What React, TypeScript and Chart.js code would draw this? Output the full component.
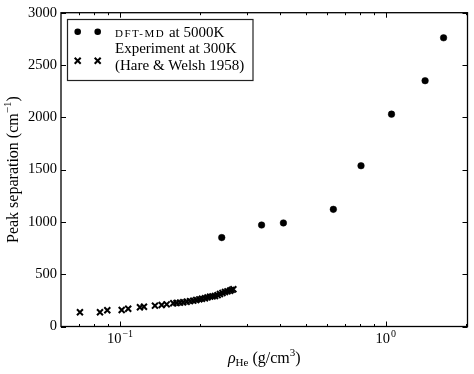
import { useEffect, useRef } from "react";
import { Chart, registerables } from "chart.js";

Chart.register(...registerables);

// DFT-MD at 5000K
const dftDensity = [0.2415, 0.341, 0.412, 0.635, 0.807, 1.051, 1.406, 1.65];
const dftSeparation = [850, 970, 990, 1120, 1537, 2030, 2350, 2760];

// Experiment at 300K (Hare & Welsh 1958)
const expDensity = [
  0.0707, 0.0841, 0.0896, 0.1015, 0.1074, 0.1189, 0.1231, 0.1354, 0.1435, 0.1499,
  0.1587, 0.1633, 0.1682, 0.173, 0.1782, 0.1834, 0.1887, 0.1936, 0.1988, 0.2035,
  0.2089, 0.2134, 0.2182, 0.223, 0.2278, 0.233, 0.2378, 0.243, 0.2484, 0.2538,
  0.2594, 0.263, 0.267,
];
const expSeparation = [
  136, 136, 155, 158, 170, 184, 189, 199, 206, 212,
  222, 225, 228, 232, 237, 242, 247, 253, 260, 265,
  270, 278, 285, 288, 292, 300, 311, 320, 330, 336,
  342, 350, 356,
];

const yTicks = [0, 500, 1000, 1500, 2000, 2500, 3000];
const xMajorTicks = [0.1, 1];
const xMajorLabels = [["10", "\u22121"], ["10", "0"]];
const xMinorTicks = [0.07, 0.08, 0.09, 0.2, 0.3, 0.4, 0.5, 0.6, 0.7, 0.8, 0.9, 2];
const xRange = [0.06, 2.03];
const yRange = [0, 3000];

const SERIF = '"Liberation Serif", "DejaVu Serif", serif';

const decorPlugin = {
  id: "decor",
  afterDraw(chart: any) {
    const { ctx, chartArea: a, scales } = chart;
    const xs = scales.x;
    const ys = scales.y;
    ctx.save();
    ctx.strokeStyle = "#000";
    ctx.fillStyle = "#000";

    // ticks (inward, all four sides)
    ctx.lineWidth = 1;
    ctx.beginPath();
    const vx = (v: number, len: number) => {
      const px = Math.round(xs.getPixelForValue(v)) + 0.5;
      ctx.moveTo(px, a.bottom);
      ctx.lineTo(px, a.bottom - len);
      ctx.moveTo(px, a.top);
      ctx.lineTo(px, a.top + len);
    };
    xMajorTicks.forEach((v) => vx(v, 5));
    xMinorTicks.forEach((v) => vx(v, 2.5));
    yTicks.forEach((v) => {
      const py = Math.round(ys.getPixelForValue(v)) + 0.5;
      ctx.moveTo(a.left, py);
      ctx.lineTo(a.left + 5, py);
      ctx.moveTo(a.right, py);
      ctx.lineTo(a.right - 5, py);
    });
    ctx.stroke();

    // frame
    ctx.lineWidth = 1.3;
    ctx.strokeRect(a.left, a.top, a.right - a.left, a.bottom - a.top);

    // x tick labels 10^n
    ctx.textBaseline = "alphabetic";
    ctx.textAlign = "left";
    xMajorTicks.forEach((v, i) => {
      const px = xs.getPixelForValue(v);
      const [base, sup] = xMajorLabels[i];
      ctx.font = `14.5px ${SERIF}`;
      const wb = ctx.measureText(base).width;
      ctx.font = `10px ${SERIF}`;
      const ws = ctx.measureText(sup).width;
      const x0 = px - (wb + ws + 1) / 2;
      ctx.font = `14.5px ${SERIF}`;
      ctx.fillText(base, x0, a.bottom + 16);
      ctx.font = `10px ${SERIF}`;
      ctx.fillText(sup, x0 + wb + 1, a.bottom + 10.5);
    });

    // x title: rho_He (g/cm^3)
    {
      const base = 363;
      const parts: [string, string, number][] = [
        ["\u03c1", `italic 16px ${SERIF}`, 0],
        ["He", `11px ${SERIF}`, 3],
        [" (g/cm", `16px ${SERIF}`, 0],
        ["3", `11px ${SERIF}`, -7],
        [")", `16px ${SERIF}`, 0],
      ];
      let total = 0;
      parts.forEach(([t, f]) => {
        ctx.font = f;
        total += ctx.measureText(t).width;
      });
      let x = (a.left + a.right) / 2 - total / 2;
      parts.forEach(([t, f, dy]) => {
        ctx.font = f;
        ctx.fillText(t, x, base + dy);
        x += ctx.measureText(t).width;
      });
    }

    // y title: Peak separation (cm^-1)
    {
      ctx.save();
      ctx.translate(18, (a.top + a.bottom) / 2);
      ctx.rotate(-Math.PI / 2);
      const parts: [string, string, number][] = [
        ["Peak separation (cm", `16px ${SERIF}`, 0],
        ["\u22121", `11px ${SERIF}`, -7],
        [")", `16px ${SERIF}`, 0],
      ];
      let total = 0;
      parts.forEach(([t, f]) => {
        ctx.font = f;
        total += ctx.measureText(t).width;
      });
      let x = -total / 2;
      parts.forEach(([t, f, dy]) => {
        ctx.font = f;
        ctx.fillText(t, x, dy);
        x += ctx.measureText(t).width;
      });
      ctx.restore();
    }

    // legend
    {
      ctx.fillStyle = "#fff";
      ctx.fillRect(67.5, 19.5, 185.5, 61);
      ctx.strokeStyle = "#222";
      ctx.lineWidth = 1.2;
      ctx.strokeRect(67.5, 19.5, 185.5, 61);
      ctx.fillStyle = "#000";
      ctx.strokeStyle = "#000";
      [77.7, 97.7].forEach((mx) => {
        ctx.beginPath();
        ctx.arc(mx, 31.7, 3.3, 0, Math.PI * 2);
        ctx.fill();
        ctx.beginPath();
        ctx.lineWidth = 2;
        ctx.moveTo(mx - 3, 60.7 - 3);
        ctx.lineTo(mx + 3, 60.7 + 3);
        ctx.moveTo(mx - 3, 60.7 + 3);
        ctx.lineTo(mx + 3, 60.7 - 3);
        ctx.stroke();
      });
      ctx.font = `11px ${SERIF}`;
      (ctx as any).letterSpacing = "1.5px";
      ctx.fillText("DFT-MD", 115, 36.5);
      const w = ctx.measureText("DFT-MD").width;
      (ctx as any).letterSpacing = "0px";
      ctx.font = `15px ${SERIF}`;
      ctx.fillText(" at 5000K", 115 + w, 36.5);
      ctx.fillText("Experiment at 300K", 115, 53);
      ctx.fillText("(Hare & Welsh 1958)", 115, 70);
    }

    ctx.restore();
  },
};

export default function App() {
  const ref = useRef<HTMLCanvasElement>(null);

  useEffect(() => {
    const canvas = ref.current;
    if (!canvas) return;
    const chart = new Chart(canvas, {
      type: "scatter",
      data: {
        datasets: [
          {
            label: "DFT-MD at 5000K",
            data: dftDensity.map((x, i) => ({ x, y: dftSeparation[i] })),
            pointStyle: "circle",
            pointRadius: 3.3,
            pointBorderWidth: 0.5,
            backgroundColor: "#000",
            borderColor: "#000",
          },
          {
            label: "Experiment at 300K (Hare & Welsh 1958)",
            data: expDensity.map((x, i) => ({ x, y: expSeparation[i] })),
            pointStyle: "crossRot",
            pointRadius: 4.2,
            pointBorderWidth: 2,
            backgroundColor: "#000",
            borderColor: "#000",
          },
        ],
      },
      options: {
        animation: false,
        responsive: false,
        devicePixelRatio: 1,
        layout: { padding: { left: 0, right: 6.5, top: 12.7, bottom: 0 } },
        plugins: {
          legend: { display: false },
          tooltip: { enabled: false },
        },
        scales: {
          x: {
            type: "logarithmic",
            min: xRange[0],
            max: xRange[1],
            grid: { display: false, drawTicks: false },
            border: { display: false },
            ticks: { display: false },
            afterFit: (s: any) => {
              s.height = 47.5;
            },
          },
          y: {
            type: "linear",
            min: yRange[0],
            max: yRange[1],
            grid: { display: false, drawTicks: false },
            border: { display: false },
            afterBuildTicks: (s: any) => {
              s.ticks = yTicks.map((v) => ({ value: v }));
            },
            ticks: {
              color: "#000",
              padding: 4,
              font: { family: SERIF, size: 14.5 },
              autoSkip: false,
              callback: (v: any) => String(v),
            },
            afterFit: (s: any) => {
              s.width = 61;
            },
          },
        },
      },
      plugins: [decorPlugin],
    });
    return () => chart.destroy();
  }, []);

  return (
    <div style={{ position: "fixed", left: 0, top: 0, width: 474, height: 374, background: "#fff" }}>
      <canvas ref={ref} width={474} height={374} style={{ width: 474, height: 374, display: "block" }} />
    </div>
  );
}
